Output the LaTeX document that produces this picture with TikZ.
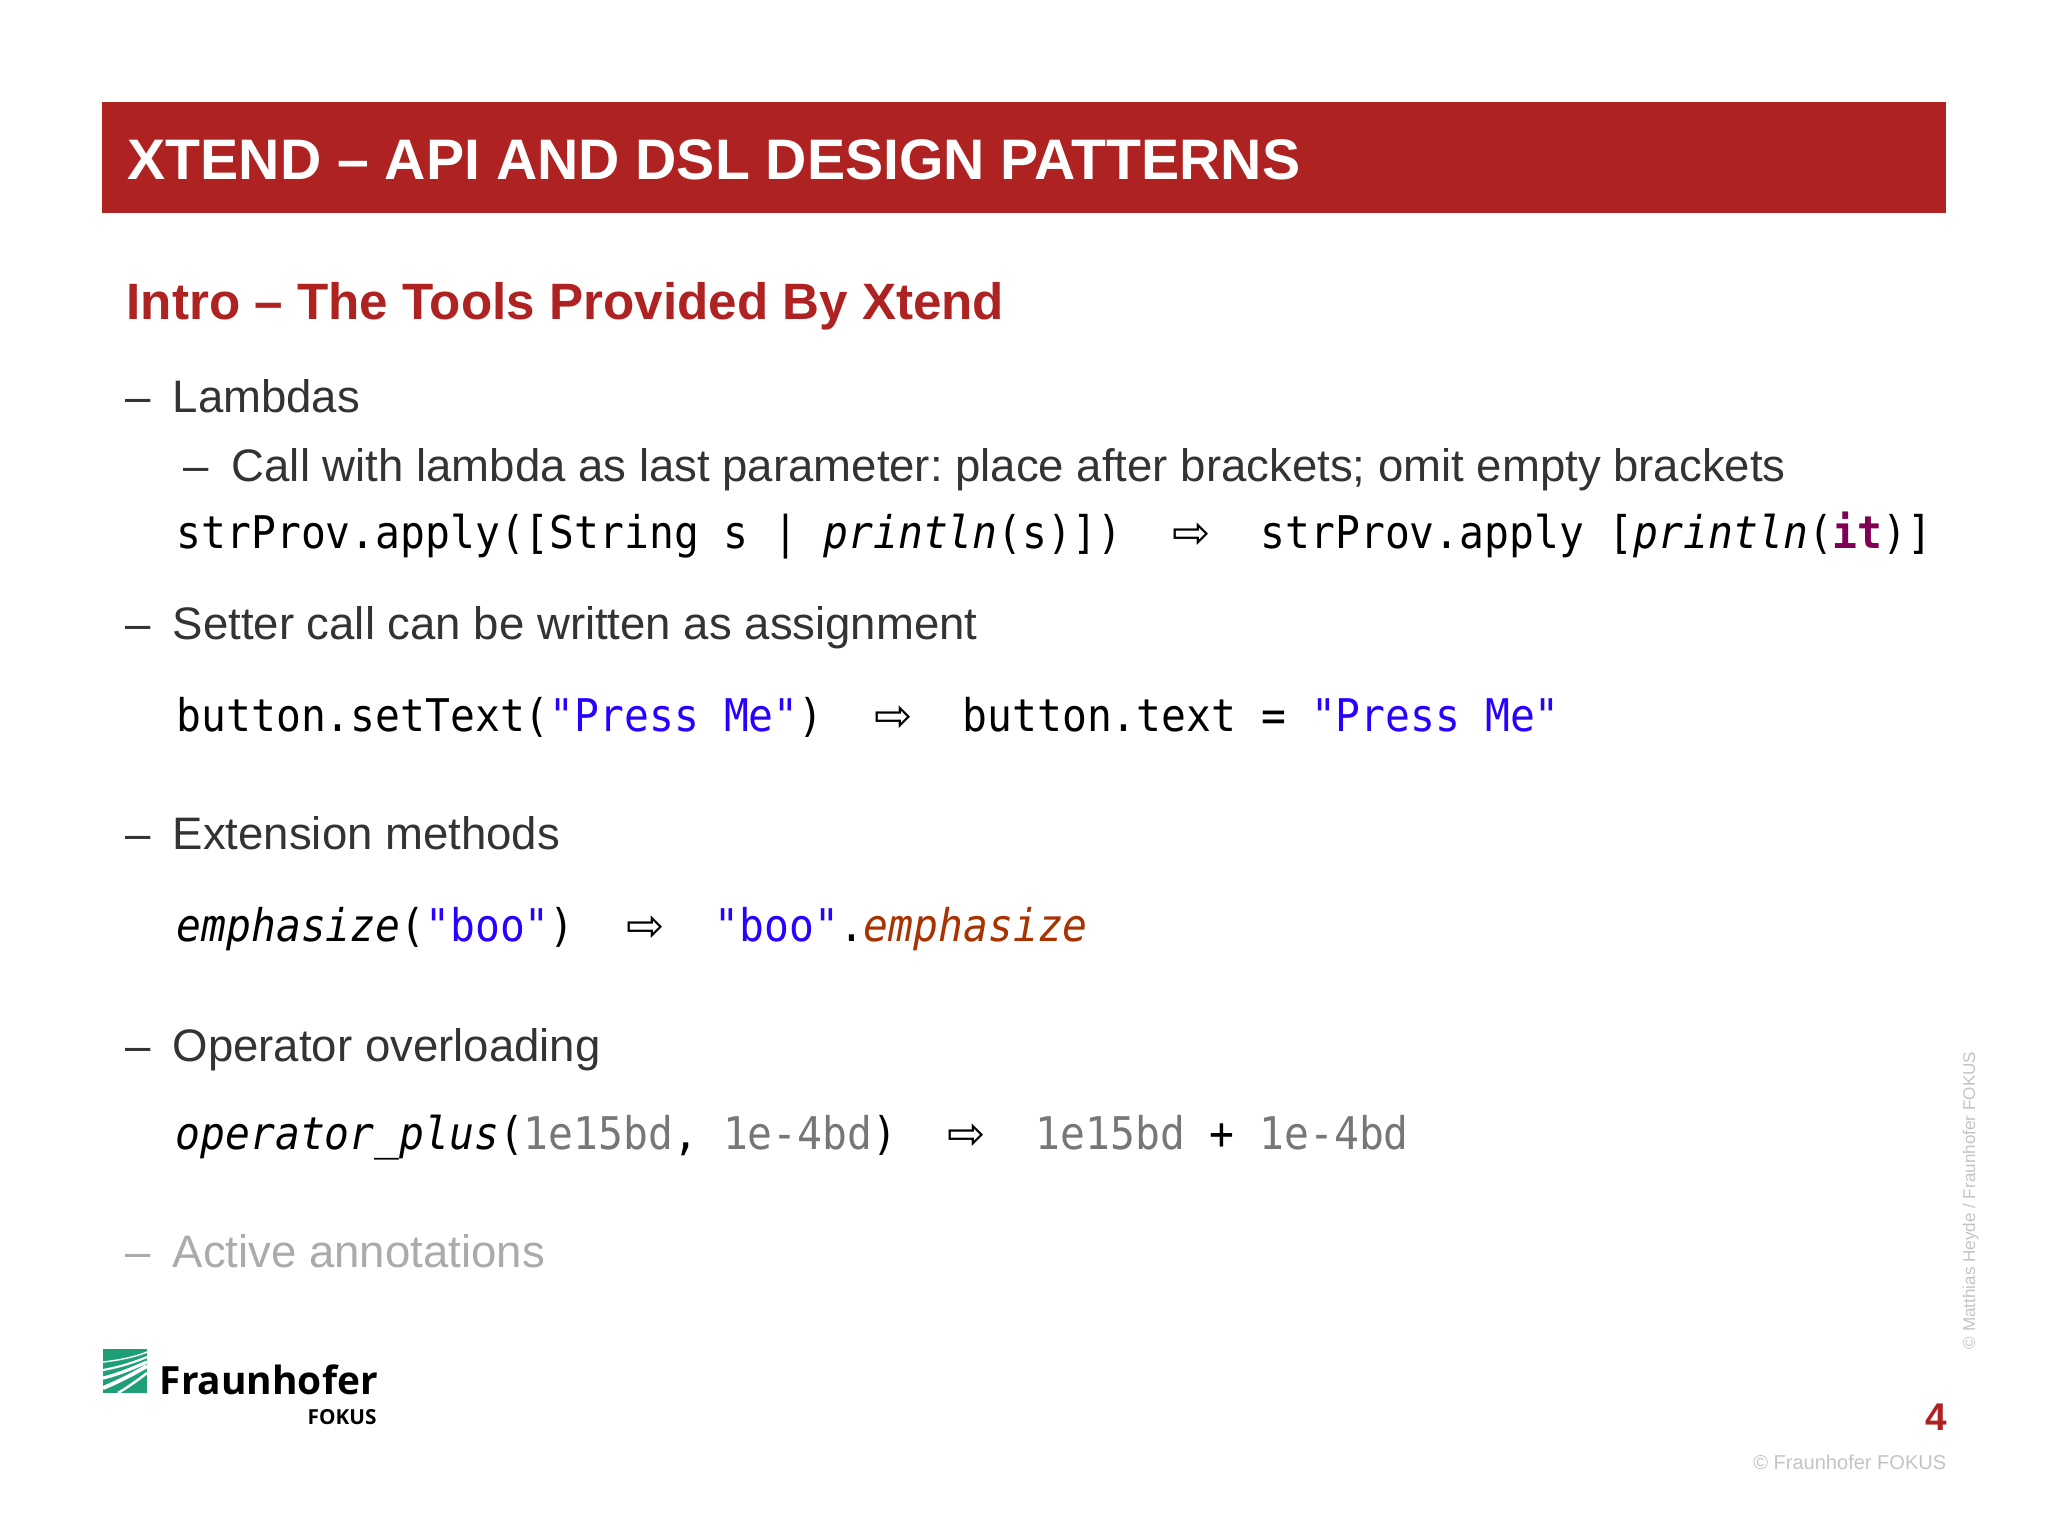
\documentclass[tikz,border=0pt]{standalone}
\usepackage{fontspec}
\setmainfont{Liberation Sans}
\newfontfamily\codefont[FakeStretch=0.918]{DejaVu Sans Mono}
\newfontfamily\arrowfont{DejaVu Sans}
\newfontfamily\logofont{Open Sans}
\definecolor{fhred}{HTML}{AE2222}
\definecolor{fhgreen}{HTML}{1F9F78}
\definecolor{bodygray}{HTML}{333333}
\definecolor{fadegray}{HTML}{ABABAB}
\definecolor{notegray}{HTML}{C4C4C8}
\definecolor{strblue}{HTML}{2A00FF}
\definecolor{kwpurple}{HTML}{7F0055}
\definecolor{extbrown}{HTML}{A83200}
\definecolor{numgray}{HTML}{777777}
\newcommand{\strlit}[1]{\textcolor{strblue}{#1}}
\newcommand{\numlit}[1]{\textcolor{numgray}{#1}}
\frenchspacing
\tikzset{
  txt/.style={inner sep=0pt,anchor=base west},
  item/.style={txt,text=bodygray,font=\fontsize{12.95}{15}\selectfont},
  code/.style={txt,text=black,font=\codefont\fontsize{12.8}{15}\selectfont},
  implies/.style={txt,text=black,font=\arrowfont\fontsize{13}{15}\selectfont},
}
\begin{document}
\begin{tikzpicture}[x=0.01cm,y=-0.01cm]
    \useasboundingbox (0,0) rectangle (2048,1536);
    \fill[white] (0,0) rectangle (2048,1536);

    % header
    \fill[fhred] (102,102) rectangle (1946,213);
    \node[txt,text=white,font=\fontsize{16.25}{18}\selectfont\bfseries] (title) at (127,179) {XTEND – API AND DSL DESIGN PATTERNS};
    \node[txt,text=fhred,font=\fontsize{14.55}{17}\selectfont\bfseries] (intro) at (126,319) {Intro – The Tools Provided By Xtend};

    % bullets
    \foreach \name/\y/\label in {lambdas/412/Lambdas,setter/639/Setter call can be written as assignment,extension/849/Extension methods,operator/1061/Operator overloading} {
        \node[item] (\name dash) at (125,\y) {–};
        \node[item] (\name) at (172,\y) {\label};
    }
    \node[item] (calldash) at (183,481) {–};
    \node[item] (call) at (231,481) {Call with lambda as last parameter: place after brackets; omit empty brackets};
    \node[item,text=fadegray] (activedash) at (125,1267) {–};
    \node[item,text=fadegray] (active) at (172,1267) {Active annotations};

    % code lines
    \node[code] (lambdaold) at (176,548) {strProv.apply([String s | \textit{println}(s)])};
    \node[implies] (lambdaarrow) at (1172,548) {⇨};
    \node[code] (lambdanew) at (1260,548) {strProv.apply [\textit{println}(\textcolor{kwpurple}{\textbf{it}})]};

    \node[code] (setold) at (176,731) {button.setText(\strlit{"Press Me"})};
    \node[implies] (setarrow) at (874,731) {⇨};
    \node[code] (setnew) at (962,731) {button.text = \strlit{"Press Me"}};

    \node[code] (extold) at (176,941) {\textit{emphasize}(\strlit{"boo"})};
    \node[implies] (extarrow) at (626,941) {⇨};
    \node[code] (extnew) at (714,941) {\strlit{"boo"}.\textcolor{extbrown}{\textit{emphasize}}};

    \node[code] (opold) at (175,1149) {\textit{operator\_plus}(\numlit{1e15bd}, \numlit{1e-4bd})};
    \node[implies] (oparrow) at (947,1149) {⇨};
    \node[code] (opnew) at (1035,1149) {\numlit{1e15bd} + \numlit{1e-4bd}};

    % logo
    \begin{scope}
        \clip (103,1349) rectangle (147,1393);
        \fill[fhgreen] (103,1349) rectangle (147,1393);
        \draw[white,line width=0.4pt] (103,1362) .. controls (120,1360) and (135,1357) .. (147,1352);
        \draw[white,line width=0.6pt] (103,1370) .. controls (120,1367) and (135,1362) .. (147,1357);
        \draw[white,line width=0.9pt] (103,1378) .. controls (120,1374) and (135,1367) .. (147,1362);
        \draw[white,line width=1.1pt] (103,1388) .. controls (120,1381) and (135,1373) .. (147,1366);
        \draw[white,line width=0.7pt] (118,1393) .. controls (128,1387) and (138,1380) .. (147,1373);
    \end{scope}
    \node[txt,text=black,font=\logofont\fontsize{11.05}{13}\selectfont\bfseries] (fraunhofer) at (159,1394) {Fraunhofer};
    \node[txt,text=black,font=\logofont\fontsize{5.9}{7}\selectfont\bfseries] (fokus) at (307,1424) {FOKUS};

    % footer
    \node[inner sep=0pt,anchor=base east,text=fhred,font=\fontsize{11}{12}\selectfont\bfseries] (page) at (1948,1430) {4};
    \node[inner sep=0pt,anchor=base east,text=notegray,font=\fontsize{5.7}{7}\selectfont] (copyright) at (1947,1469) {© Fraunhofer FOKUS};
    \node[inner sep=0pt,anchor=base west,rotate=90,text=notegray,font=\fontsize{4.86}{6}\selectfont] (author) at (1975,1350) {© Matthias Heyde / Fraunhofer FOKUS};
\end{tikzpicture}
\end{document}
